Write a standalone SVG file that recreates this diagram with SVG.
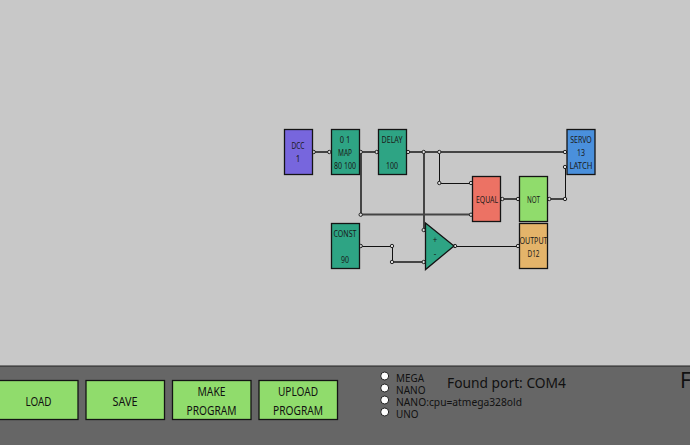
<svg xmlns="http://www.w3.org/2000/svg" width="690" height="445" viewBox="0 0 690 445">
<style>
text{font-family:"Noto Sans","Open Sans",sans-serif;fill:#1a1a1a;text-anchor:middle}
.n{font-size:8px}
.b{stroke:#141414;stroke-width:1.300}
.h{fill:none;stroke:#444;stroke-width:2}
.w{fill:none;stroke:#111;stroke-width:1}
.p{fill:#ddd;stroke:#222;stroke-width:1}
.btn{fill:#90dc6c;stroke:#141414;stroke-width:1.300}
.t{font-size:12px;fill:#111}
.r{font-size:11.500px;text-anchor:start;fill:#111}
</style>
<rect width="690" height="445" fill="#c8c8c8"/>
<g id="connectors">
<path class="h" d="M314 152H329M361 152H377M408 152H565M361 152V214.500H471M424 152V230"/>
<path class="w" d="M439.500 152V183.500H471M361 246.500H392.500V262M455 246.500H518M565.500 199V167"/>
<path class="h" d="M392 262H424M502 199H518M549 199H565"/>
<g>
<circle class="p" cx="313.700" cy="152" r="1.700"/><circle class="p" cx="329.300" cy="152" r="1.700"/>
<circle class="p" cx="360.700" cy="152" r="1.700"/><circle class="p" cx="376.700" cy="152" r="1.700"/>
<circle class="p" cx="408" cy="152" r="1.700"/><circle class="p" cx="423.700" cy="152" r="1.700"/>
<circle class="p" cx="439.300" cy="152" r="1.700"/><circle class="p" cx="565" cy="152" r="1.700"/>
<circle class="p" cx="439.300" cy="183" r="1.700"/><circle class="p" cx="471" cy="183" r="1.700"/>
<circle class="p" cx="360.700" cy="214.700" r="1.700"/><circle class="p" cx="471" cy="214.700" r="1.700"/>
<circle class="p" cx="423.700" cy="230" r="1.700"/><circle class="p" cx="360.700" cy="246" r="1.700"/>
<circle class="p" cx="392" cy="246" r="1.700"/><circle class="p" cx="392" cy="262" r="1.700"/>
<circle class="p" cx="423.700" cy="262" r="1.700"/><circle class="p" cx="455" cy="246" r="1.700"/>
<circle class="p" cx="518" cy="246" r="1.700"/><circle class="p" cx="502.300" cy="199" r="1.700"/>
<circle class="p" cx="518" cy="199" r="1.700"/><circle class="p" cx="549.300" cy="199" r="1.700"/>
<circle class="p" cx="565" cy="199" r="1.700"/><circle class="p" cx="565" cy="167" r="1.700"/>
</g>
</g>
<g id="dcc"><rect class="b" x="284.500" y="129.500" width="28" height="45" fill="#7766dd"/><text class="n" x="298" y="149" textLength="13" lengthAdjust="spacingAndGlyphs">DCC</text><text class="n" x="298" y="162">1</text></g>
<g id="map"><rect class="b" x="331.500" y="129.500" width="28" height="45" fill="#2ea484"/><text class="n" x="345" y="142.500" textLength="10.500" lengthAdjust="spacingAndGlyphs">0 1</text><text class="n" x="345" y="155.500" textLength="14" lengthAdjust="spacingAndGlyphs">MAP</text><text class="n" x="345" y="169" textLength="22" lengthAdjust="spacingAndGlyphs">80 100</text></g>
<g id="delay"><rect class="b" x="378.500" y="129.500" width="28" height="45" fill="#2ea484"/><text class="n" x="392" y="142.500" textLength="21" lengthAdjust="spacingAndGlyphs">DELAY</text><text class="n" x="392" y="169" textLength="12" lengthAdjust="spacingAndGlyphs">100</text></g>
<g id="const"><rect class="b" x="331.500" y="223.500" width="28" height="45" fill="#2ea484"/><text class="n" x="345" y="237" textLength="23" lengthAdjust="spacingAndGlyphs">CONST</text><text class="n" x="345" y="263" textLength="8" lengthAdjust="spacingAndGlyphs">90</text></g>
<g id="comparator"><polygon class="b" points="425.500,223 454,246 425.500,269.500" fill="#2ea484"/><text class="n" x="435" y="243">+</text><text class="n" x="435" y="257">-</text></g>
<g id="equal"><rect class="b" x="472.500" y="176.500" width="28" height="45" fill="#ec7264"/><text class="n" x="487" y="203" textLength="22" lengthAdjust="spacingAndGlyphs">EQUAL</text></g>
<g id="not"><rect class="b" x="519.500" y="176.500" width="28" height="45" fill="#90dc6c"/><text class="n" x="533.500" y="203" textLength="13" lengthAdjust="spacingAndGlyphs">NOT</text></g>
<g id="output"><rect class="b" x="519.500" y="223.500" width="28" height="45" fill="#e4b46a"/><text class="n" x="533.500" y="244" textLength="28" lengthAdjust="spacingAndGlyphs">OUTPUT</text><text class="n" x="533.500" y="256.500" textLength="12" lengthAdjust="spacingAndGlyphs">D12</text></g>
<g id="servo"><rect class="b" x="567" y="129.500" width="28" height="45" fill="#4a90dc"/><text class="n" x="581" y="142.500" textLength="21.500" lengthAdjust="spacingAndGlyphs">SERVO</text><text class="n" x="581" y="155.500" textLength="8" lengthAdjust="spacingAndGlyphs">13</text><text class="n" x="581" y="169" textLength="23" lengthAdjust="spacingAndGlyphs">LATCH</text></g>
<rect y="366" width="690" height="79" fill="#666"/>
<path d="M0 366H690" stroke="#222" stroke-width="1.200"/>
<g id="load"><rect class="btn" x="-10" y="380.500" width="88" height="39"/><text class="t" x="38.500" y="406" textLength="26" lengthAdjust="spacingAndGlyphs">LOAD</text></g>
<g id="save"><rect class="btn" x="86" y="380.500" width="78.500" height="39"/><text class="t" x="125" y="406" textLength="25" lengthAdjust="spacingAndGlyphs">SAVE</text></g>
<g id="make"><rect class="btn" x="172.500" y="380.500" width="78.500" height="39"/><text class="t" x="211.500" y="396" textLength="28" lengthAdjust="spacingAndGlyphs">MAKE</text><text class="t" x="211.500" y="415" textLength="50" lengthAdjust="spacingAndGlyphs">PROGRAM</text></g>
<g id="upload"><rect class="btn" x="259" y="380.500" width="78.500" height="39"/><text class="t" x="298" y="396" textLength="40" lengthAdjust="spacingAndGlyphs">UPLOAD</text><text class="t" x="298" y="415" textLength="50" lengthAdjust="spacingAndGlyphs">PROGRAM</text></g>
<g id="radios">
<circle cx="384.700" cy="376" r="4" fill="#fff" stroke="#222"/><circle cx="384.700" cy="388" r="4" fill="#fff" stroke="#222"/><circle cx="384.700" cy="400" r="4" fill="#fff" stroke="#222"/><circle cx="384.700" cy="412" r="4" fill="#fff" stroke="#222"/>
<text class="r" x="396" y="382" textLength="28" lengthAdjust="spacingAndGlyphs">MEGA</text><text class="r" x="396" y="394" textLength="29.500" lengthAdjust="spacingAndGlyphs">NANO</text><text class="r" x="396" y="406" textLength="126" lengthAdjust="spacingAndGlyphs">NANO:cpu=atmega328old</text><text class="r" x="396" y="417.500" textLength="22.500" lengthAdjust="spacingAndGlyphs">UNO</text>
</g>
<text x="447" y="388" textLength="119" lengthAdjust="spacingAndGlyphs" style="font-size:14.500px;text-anchor:start;fill:#111">Found port: COM4</text>
<text x="680" y="388" style="font-size:21px;text-anchor:start;fill:#111">F</text>
</svg>
